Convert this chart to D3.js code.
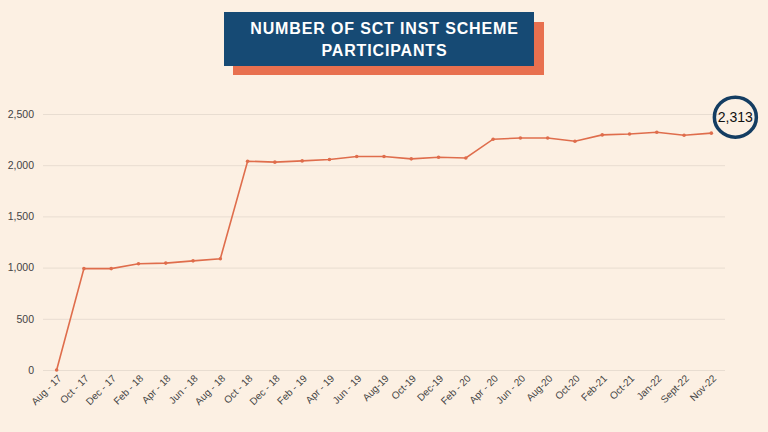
<!DOCTYPE html>
<html>
<head>
<meta charset="utf-8">
<script src="https://cdn.jsdelivr.net/npm/d3@7"></script>
<style>
    body { margin: 0; background: #fcf0e3; }
    svg { display: block; font-family: "Liberation Sans", Arial, sans-serif; }
</style>
</head>
<body>
<script>
//chart data
var months = ["Aug - 17", "Oct - 17", "Dec - 17", "Feb - 18", "Apr - 18", "Jun - 18",
    "Aug - 18", "Oct - 18", "Dec - 18", "Feb - 19", "Apr - 19", "Jun - 19", "Aug-19",
    "Oct-19", "Dec-19", "Feb - 20", "Apr - 20", "Jun - 20", "Aug-20", "Oct-20",
    "Feb-21", "Oct-21", "Jan-22", "Sept-22", "Nov-22"];

var participants = [0, 990, 990, 1037, 1044, 1066, 1086, 2039, 2030, 2042, 2055, 2085,
    2085, 2062, 2078, 2071, 2254, 2266, 2266, 2234, 2296, 2305, 2322, 2293, 2313];

var yTicks = [0, 500, 1000, 1500, 2000, 2500];

var titleLines = ["NUMBER OF SCT INST SCHEME", "PARTICIPANTS"];

var w = 768, h = 432;

var svg = d3.select("body")
    .append("svg")
    .attr("width", w)
    .attr("height", h);

svg.append("rect")
    .attr("width", w)
    .attr("height", h)
    .style("fill", "#fcf0e3");

//scales
var x = d3.scalePoint()
    .domain(months)
    .range([43, 725])
    .padding(0.5);

var y = d3.scaleLinear()
    .domain([0, 2500])
    .range([370, 114]);

//gridlines + y labels
var yAxis = d3.axisLeft(y)
    .tickValues(yTicks)
    .tickSize(-(725 - 43))
    .tickPadding(9)
    .tickFormat(d3.format(","));

var yg = svg.append("g")
    .attr("class", "axis")
    .attr("transform", "translate(43,0)")
    .call(yAxis);
yg.select(".domain").remove();
yg.selectAll("line").style("stroke", "#e8ddd1").style("stroke-width", 1);
yg.selectAll("text")
    .style("font-size", "10.5px")
    .style("fill", "#444");

//x labels, rotated
var xAxis = d3.axisBottom(x).tickSize(0).tickPadding(0);
var xg = svg.append("g")
    .attr("transform", "translate(0,370)")
    .call(xAxis);
xg.select(".domain").remove();
xg.selectAll("text")
    .style("font-size", "10px")
    .style("fill", "#444")
    .attr("text-anchor", "end")
    .attr("dy", 0)
    .attr("transform", "translate(5,9) rotate(-45)");

//line
var line = d3.line()
    .x(function(d, i){ return x(months[i]); })
    .y(function(d){ return y(d); });

svg.append("path")
    .datum(participants)
    .attr("d", line)
    .style("fill", "none")
    .style("stroke", "#df6d4c")
    .style("stroke-width", 1.6);

svg.selectAll(".dot")
    .data(participants)
    .enter()
    .append("circle")
    .attr("class", "dot")
    .attr("cx", function(d, i){ return x(months[i]); })
    .attr("cy", function(d){ return y(d); })
    .attr("r", 1.8)
    .style("fill", "#df6d4c");

//title box with offset shadow
svg.append("rect")
    .attr("x", 233).attr("y", 22)
    .attr("width", 311).attr("height", 53)
    .style("fill", "#e8704f");
svg.append("rect")
    .attr("x", 224).attr("y", 12)
    .attr("width", 310).attr("height", 54)
    .style("fill", "#164a74");

svg.selectAll(".title")
    .data(titleLines)
    .enter()
    .append("text")
    .attr("class", "title")
    .attr("x", 384.5)
    .attr("y", function(d, i){ return 34 + i * 21.5; })
    .attr("text-anchor", "middle")
    .style("font-size", "16px")
    .style("font-weight", "bold")
    .style("letter-spacing", "0.85px")
    .style("fill", "#ffffff")
    .text(function(d){ return d; });

//last value callout
var last = participants.length - 1;
var cx = x(months[last]) + 24, cy = y(participants[last]) - 16;

svg.append("ellipse")
    .attr("cx", cx).attr("cy", cy)
    .attr("rx", 21).attr("ry", 20)
    .style("fill", "none")
    .style("stroke", "#143d62")
    .style("stroke-width", 3.5);

svg.append("text")
    .attr("x", cx)
    .attr("y", cy + 5)
    .attr("text-anchor", "middle")
    .style("font-size", "14px")
    .style("fill", "#111")
    .text(d3.format(",")(participants[last]));
</script>
</body>
</html>
